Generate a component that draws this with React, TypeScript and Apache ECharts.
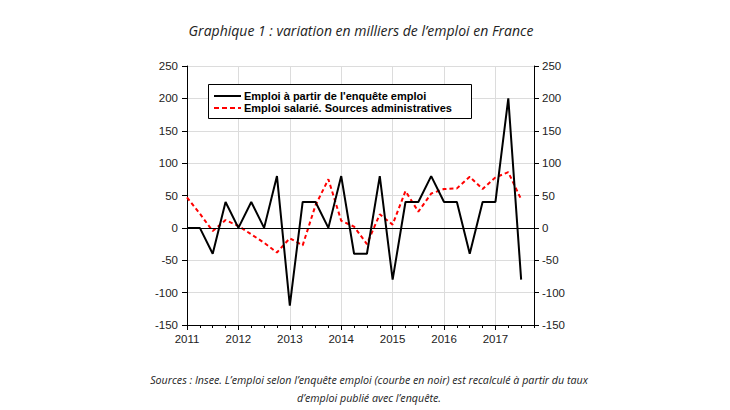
import React, { useEffect, useRef } from "react";
import * as echarts from "echarts";

const years = ["2011", "2012", "2013", "2014", "2015", "2016", "2017"];
const quarters = ["T1", "T2", "T3", "T4"];
const categories = years.flatMap((y) => quarters.map((q) => `${y}${q}`));

const enqueteName = "Emploi à partir de l'enquête emploi";
const salarieName = "Emploi salarié. Sources administratives";

// variation en milliers, 2011T1 .. 2017T3
const enqueteValues = [
  0, 0, -40, 40, 0, 40, 0, 80, -120, 40, 40, 0, 80, -40, -40, 80, -80, 40, 40,
  80, 40, 40, -40, 40, 40, 200, -80,
];
const salarieValues = [
  47, 22, -5, 12, 3, -10, -23, -38, -16, -27, 35, 75, 11, 2, -25, 21, 5, 57, 25,
  53, 60, 61, 79, 60, 78, 86, 44,
];

const yMin = -150;
const yMax = 250;
const yStep = 50;

const titleText = "Graphique 1 : variation en milliers de l’emploi en France";
const sourceLines = [
  "Sources : Insee. L’emploi selon l’enquête emploi (courbe en noir) est recalculé à partir du taux",
  "d’emploi publié avec l’enquête.",
];

const App: React.FC = () => {
  const chartRef = useRef<HTMLDivElement | null>(null);

  useEffect(() => {
    if (!chartRef.current) return;
    const chart = echarts.init(chartRef.current, undefined, { renderer: "svg" });

    const axisFont = {
      fontFamily: "'Liberation Sans', Arial, sans-serif",
      fontSize: 11.5,
      color: "#222",
    };
    const isYear = (idx: number) => idx % 4 === 0;

    const yAxisBase = {
      type: "value",
      min: yMin,
      max: yMax,
      interval: yStep,
      axisLine: { show: true, lineStyle: { color: "#000", width: 1 } },
      axisTick: { show: true, inside: false, length: 5, lineStyle: { color: "#000" } },
    };

    const option = {
      animation: false,
      grid: { left: 187, right: 196, top: 66, bottom: 85 },
      xAxis: [
        {
          type: "category",
          data: categories,
          boundaryGap: false,
          axisLine: { show: true, onZero: false, lineStyle: { color: "#000", width: 1 } },
          axisTick: { show: true, interval: isYear, length: 5, lineStyle: { color: "#000" } },
          axisLabel: {
            ...axisFont,
            interval: isYear,
            margin: 8,
            formatter: (v: string) => v.slice(0, 4),
          },
          splitLine: {
            show: true,
            interval: isYear,
            lineStyle: { color: "#dcdcdc", width: 1 },
          },
        },
        {
          type: "category",
          data: categories,
          boundaryGap: false,
          position: "bottom",
          axisLine: { show: false, onZero: false },
          axisTick: { show: true, interval: 0, length: 3, lineStyle: { color: "#000" } },
          axisLabel: { show: false },
          splitLine: { show: false },
        },
      ],
      yAxis: [
        {
          ...yAxisBase,
          position: "left",
          axisLabel: { ...axisFont, margin: 9 },
          splitLine: { show: true, lineStyle: { color: "#dcdcdc", width: 1 } },
        },
        {
          ...yAxisBase,
          position: "right",
          axisLabel: { ...axisFont, margin: 8 },
          splitLine: { show: false },
        },
      ],
      series: [
        {
          name: salarieName,
          type: "line",
          data: salarieValues,
          symbol: "none",
          z: 3,
          lineStyle: { color: "#ff0000", width: 2, type: [4, 3] },
          markLine: {
            silent: true,
            symbol: "none",
            label: { show: false },
            lineStyle: { color: "#000", width: 1, type: "solid" },
            data: [{ yAxis: 0 }],
          },
        },
        {
          name: enqueteName,
          type: "line",
          data: enqueteValues,
          symbol: "none",
          z: 4,
          lineStyle: { color: "#000", width: 2 },
        },
      ],
      graphic: [
        {
          type: "text",
          x: 361,
          y: 30,
          style: {
            text: titleText,
            fontFamily: "'Open Sans', sans-serif",
            fontStyle: "italic",
            fontSize: 14,
            fill: "#222",
            textAlign: "center",
            verticalAlign: "middle",
          },
        },
        {
          type: "rect",
          shape: { x: 208.5, y: 84.5, width: 263, height: 34 },
          style: { fill: "#fff", stroke: "#000", lineWidth: 1 },
          z: 10,
        },
        {
          type: "line",
          shape: { x1: 214, y1: 96, x2: 241, y2: 96 },
          style: { stroke: "#000", lineWidth: 2 },
          z: 11,
        },
        {
          type: "line",
          shape: { x1: 214, y1: 108, x2: 241, y2: 108 },
          style: { stroke: "#ff0000", lineWidth: 2, lineDash: [5, 3] },
          z: 11,
        },
        {
          type: "text",
          x: 244,
          y: 96,
          z: 11,
          style: {
            text: enqueteName,
            fontFamily: "'Liberation Sans', Arial, sans-serif",
            fontWeight: "bold",
            fontSize: 11,
            fill: "#000",
            verticalAlign: "middle",
          },
        },
        {
          type: "text",
          x: 244,
          y: 108,
          z: 11,
          style: {
            text: salarieName,
            fontFamily: "'Liberation Sans', Arial, sans-serif",
            fontWeight: "bold",
            fontSize: 11,
            fill: "#000",
            verticalAlign: "middle",
          },
        },
        ...sourceLines.map((line, i) => ({
          type: "text",
          x: 369,
          y: 380 + i * 18,
          style: {
            text: line,
            fontFamily: "'Open Sans', sans-serif",
            fontStyle: "italic",
            fontSize: 10.7,
            fill: "#222",
            textAlign: "center",
            verticalAlign: "middle",
          },
        })),
      ],
    };

    chart.setOption(option);

    return () => {
      chart.dispose();
    };
  }, []);

  return (
    <div
      ref={chartRef}
      style={{
        position: "fixed",
        left: 0,
        top: 0,
        width: 730,
        height: 410,
        background: "#fff",
      }}
    />
  );
};

export default App;
